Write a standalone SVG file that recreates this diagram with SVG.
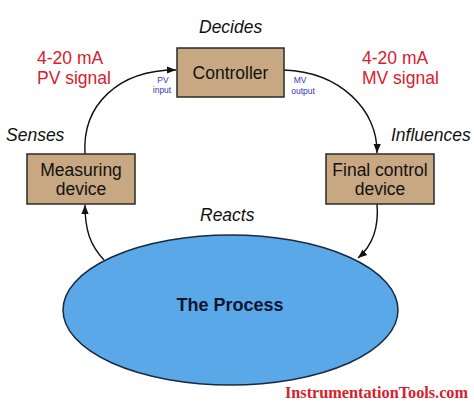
<svg xmlns="http://www.w3.org/2000/svg" width="474" height="405" viewBox="0 0 474 405">
<defs>
<style>
.box{fill:#c8a882;stroke:#2a2a2a;stroke-width:1.5}
.t{font-family:"Liberation Sans",Arial,sans-serif;font-size:17.5px;fill:#111;text-anchor:middle}
.it{font-family:"Liberation Sans",Arial,sans-serif;font-size:17.5px;font-style:italic;fill:#111}
.red{font-family:"Liberation Sans",Arial,sans-serif;font-size:17.5px;fill:#d8202c}
.sm{font-family:"Liberation Sans",Arial,sans-serif;font-size:8.5px;fill:#3535b5;text-anchor:middle}
.c{fill:none;stroke:#111;stroke-width:1.4}
</style>
<marker id="ah" viewBox="0 0 10 10" refX="10" refY="5" markerWidth="9" markerHeight="9" markerUnits="userSpaceOnUse" orient="auto">
<path d="M0,1 L10,5 L0,9 Z" fill="#111"/>
</marker>
</defs>
<rect width="474" height="405" fill="#fff"/>
<g id="process">
<ellipse cx="230.5" cy="310" rx="167.5" ry="75" fill="#5aa8e8" stroke="#1a2a40" stroke-width="1.5"/>
<text x="230" y="311" style="font-family:'Liberation Sans',Arial,sans-serif;font-size:18px;font-weight:bold;fill:#0c1630;text-anchor:middle">The Process</text>
</g>
<g id="connectors">
<path class="c" d="M85,154 C82,105 118,70 176,70" marker-end="url(#ah)"/>
<path class="c" d="M284,70 C340,72 378,110 377,153" marker-end="url(#ah)"/>
<path class="c" d="M377,204 C379,228 372,246 358,258" marker-end="url(#ah)"/>
<path class="c" d="M104,260 C90,245 85,230 85,205" marker-end="url(#ah)"/>
</g>
<g id="controller">
<rect class="box" x="177" y="48" width="107" height="49"/>
<text class="t" x="230.5" y="79">Controller</text>
</g>
<g id="measuring">
<rect class="box" x="27" y="154" width="108" height="50"/>
<text class="t" x="81" y="176">Measuring</text>
<text class="t" x="81" y="195">device</text>
</g>
<g id="final">
<rect class="box" x="326" y="154" width="108" height="50"/>
<text class="t" x="380" y="176">Final control</text>
<text class="t" x="380" y="195">device</text>
</g>
<g id="labels">
<text class="it" x="199" y="33">Decides</text>
<text class="it" x="6" y="141">Senses</text>
<text class="it" x="391" y="141">Influences</text>
<text class="it" x="200" y="221">Reacts</text>
<text class="red" x="37" y="64">4-20 mA</text>
<text class="red" x="37" y="84">PV signal</text>
<text class="red" x="362" y="64">4-20 mA</text>
<text class="red" x="362" y="84">MV signal</text>
<text class="sm" x="163" y="83">PV</text>
<text class="sm" x="162" y="93">input</text>
<text class="sm" x="300" y="83">MV</text>
<text class="sm" x="303" y="94">output</text>
<text x="285" y="398" textLength="183" lengthAdjust="spacingAndGlyphs" style="font-family:'Liberation Serif','Times New Roman',serif;font-size:16px;font-weight:bold;fill:#d8202c">InstrumentationTools.com</text>
</g>
</svg>
